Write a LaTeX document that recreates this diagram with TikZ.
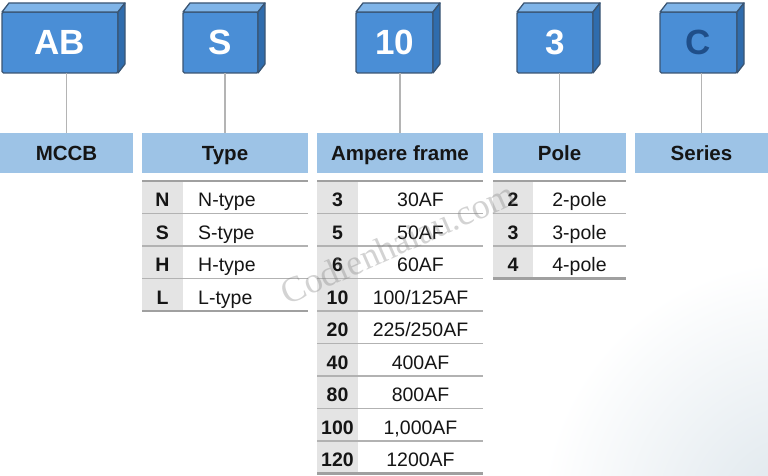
\documentclass[tikz,border=0pt]{standalone}
\usepackage{fontspec}
\setmainfont{Liberation Sans}
\newfontfamily\wmfont{Liberation Serif}
\usetikzlibrary{calc}
\definecolor{hdrblue}{HTML}{9DC3E6}
\definecolor{frontblue}{HTML}{4A8ED6}
\definecolor{topblue}{HTML}{7FB4E8}
\definecolor{sideblue}{HTML}{2F6CAD}
\definecolor{edgeblue}{HTML}{3A5573}
\definecolor{cdark}{HTML}{1F4E89}
\definecolor{codegray}{HTML}{E4E4E4}
\definecolor{sepgray}{HTML}{B2B2B2}
\definecolor{conngray}{HTML}{B4B4B4}
\definecolor{txtblack}{HTML}{151515}
\definecolor{glow}{HTML}{DCE5EB}
\tikzset{
  hdrbox/.style={fill=hdrblue, inner sep=0pt, outer sep=0pt, minimum height=40pt,
    text height=15pt, text depth=0pt,
    font=\fontsize{20.5}{24}\selectfont\bfseries, text=txtblack},
  frontface/.style={fill=frontblue, draw=edgeblue, line width=1.3pt, rounded corners=1.5pt,
    inner sep=0pt, outer sep=0pt, minimum height=61pt, text height=25pt, text depth=0pt,
    font=\fontsize{35}{40}\selectfont\bfseries, text=white},
  topface/.style={fill=topblue, draw=edgeblue, line width=1.3pt, line join=round},
  sideface/.style={fill=sideblue, draw=edgeblue, line width=1.3pt, line join=round},
  conn/.style={draw=conngray, line width=1.1pt},
  codetxt/.style={font=\fontsize{19.5}{22}\selectfont\bfseries, text=txtblack, inner sep=0pt, anchor=base},
  bodytxt/.style={font=\fontsize{19.5}{22}\selectfont, text=txtblack, inner sep=0pt, anchor=base},
  sepline/.style={draw=sepgray, line width=1.1pt},
  edgeline/.style={draw=sepgray!90!black, line width=2.4pt},
}
\newcommand\mkblock[5]{% name, x center, width, label, text colour
  \node[frontface, minimum width=#3pt, text=#5] (#1) at (#2,42.5) {#4};
  \filldraw[topface] (#1.north west) -- ++(7,-9) -- ($(#1.north east)+(7,-9)$) -- (#1.north east) -- cycle;
  \filldraw[sideface] (#1.north east) -- ++(7,-9) -- ($(#1.south east)+(7,-9)$) -- (#1.south east) -- cycle;
}
\begin{document}
\begin{tikzpicture}[x=1pt,y=-1pt]
\useasboundingbox (0,0) rectangle (768,476);
% soft glow bottom right
\begin{scope}
  \clip (0,0) rectangle (768,476);
  \shade[inner color=glow, outer color=white] (800,520) circle (260);
\end{scope}

% blocks
\mkblock{bab}{60}{116}{AB}{white}
\mkblock{bs}{220.5}{75}{S}{white}
\mkblock{bten}{394.5}{77}{10}{white}
\mkblock{bthree}{555}{76}{3}{white}
\mkblock{bc}{698.5}{77}{C}{cdark}

% headers
\node[hdrbox, minimum width=133pt] (hm) at (66.5,153) {MCCB};
\node[hdrbox, minimum width=166pt] (ht) at (225,153) {Type};
\node[hdrbox, minimum width=166pt] (ha) at (400,153) {Ampere frame};
\node[hdrbox, minimum width=133pt] (hp) at (559.5,153) {Pole};
\node[hdrbox, minimum width=133pt] (hse) at (701.5,153) {Series};

% connectors
\draw[conn] (hm.north) -- (hm.north |- bab.south);
\draw[conn] (ht.north) -- (ht.north |- bs.south);
\draw[conn] (ha.north) -- (ha.north |- bten.south);
\draw[conn] (hp.north) -- (hp.north |- bthree.south);
\draw[conn] (hse.north) -- (hse.north |- bc.south);

% Type table
\fill[codegray] (142,181) rectangle (183,311);
\foreach \c/\t [count=\i] in {N/N-type,S/S-type,H/H-type,L/L-type}{
  \node[codetxt] (tc\i) at (162.5,{181+(\i-0.5)*32.5+9.5}) {\c};
  \node[bodytxt, anchor=base west] (tt\i) at (198,{181+(\i-0.5)*32.5+9.5}) {\t};
}
\foreach \i in {1,2,3}{ \draw[sepline] (142,{181+\i*32.5}) -- (308,{181+\i*32.5}); }
\draw[edgeline] (142,181) -- (308,181);
\draw[edgeline] (142,311) -- (308,311);

% Ampere frame table
\fill[codegray] (317,181) rectangle (358,473.5);
\foreach \c/\t [count=\i] in {3/30AF,5/50AF,6/60AF,10/100\slash125AF,20/225\slash250AF,40/400AF,80/800AF,100/{1,000AF},120/1200AF}{
  \node[codetxt] (ac\i) at (337.5,{181+(\i-0.5)*32.5+9.5}) {\c};
  \node[bodytxt] (at\i) at (420.5,{181+(\i-0.5)*32.5+9.5}) {\t};
}
\foreach \i in {1,...,8}{ \draw[sepline] (317,{181+\i*32.5}) -- (483,{181+\i*32.5}); }
\draw[edgeline] (317,181) -- (483,181);
\draw[edgeline] (317,473.5) -- (483,473.5);

% Pole table
\fill[codegray] (493,181) rectangle (533,278.5);
\foreach \c/\t [count=\i] in {2/2-pole,3/3-pole,4/4-pole}{
  \node[codetxt] (pc\i) at (513,{181+(\i-0.5)*32.5+9.5}) {\c};
  \node[bodytxt] (pt\i) at (579.5,{181+(\i-0.5)*32.5+9.5}) {\t};
}
\foreach \i in {1,2}{ \draw[sepline] (493,{181+\i*32.5}) -- (626,{181+\i*32.5}); }
\draw[edgeline] (493,181) -- (626,181);
\draw[edgeline] (493,278.5) -- (626,278.5);

% watermark
\node[rotate=24, text=gray, opacity=0.35, font=\wmfont\fontsize{36}{40}\selectfont, inner sep=0pt] (wm) at (398,243) {Codienhaiau.com};
\end{tikzpicture}
\end{document}
